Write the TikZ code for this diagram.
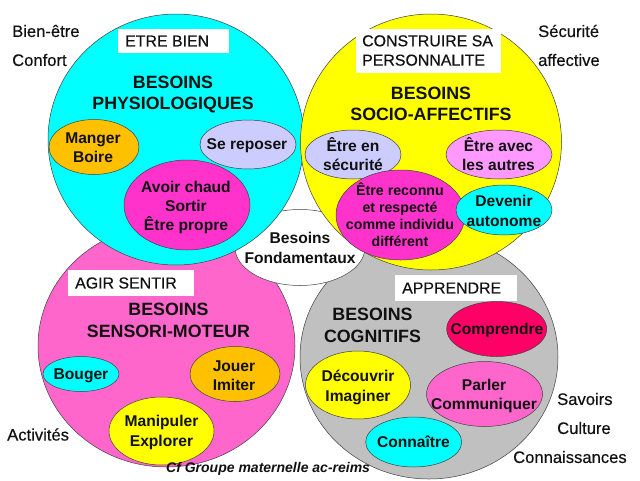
\documentclass[tikz,border=0pt]{standalone}
\usepackage{fontspec}
\setmainfont{Liberation Sans}
\newfontfamily\semifont[FakeBold=0.35]{Liberation Sans}
\usetikzlibrary{shapes.geometric}
\definecolor{cCyan}{HTML}{00FFFF}
\definecolor{cYellow}{HTML}{FFFF00}
\definecolor{cPink}{HTML}{FF66CC}
\definecolor{cGray}{HTML}{C0C0C0}
\definecolor{cOrange}{HTML}{FFC000}
\definecolor{cLav}{HTML}{CCCCFF}
\definecolor{cMag}{HTML}{FF33CC}
\definecolor{cLilac}{HTML}{FF99FF}
\definecolor{cRed}{HTML}{FF0066}
\definecolor{cInk}{HTML}{111111}
\tikzset{
  x=1pt,y=-1pt,
  blob/.style={ellipse,draw=black!75,line width=0.5pt,inner sep=0pt,outer sep=0pt},
  tag/.style={rectangle,fill=white,draw=none,inner sep=0pt,outer sep=0pt},
  lab/.style={text=cInk,align=center,inner sep=0pt,font=\fontsize{15.6}{19.3}\selectfont\bfseries},
  smalllab/.style={text=cInk,align=center,inner sep=0pt,font=\fontsize{14.2}{17}\selectfont\bfseries},
  head/.style={text=cInk,align=center,inner sep=0pt,font=\fontsize{17.8}{21.3}\selectfont\bfseries},
  taglab/.style={text=cInk,align=left,inner sep=0pt,font=\fontsize{15.9}{19.3}\selectfont\semifont},
  side/.style={text=cInk,anchor=west,inner sep=0pt,font=\fontsize{16.6}{18}\selectfont\semifont},
}
\newcommand{\blobat}[6]{\node[blob,fill=#6,minimum width=#4pt,minimum height=#5pt] (#1) at (#2,#3) {};}
\begin{document}
\begin{tikzpicture}
\useasboundingbox (0,0) rectangle (640,480);
\fill[white] (0,0) rectangle (640,480);
% big discs
\blobat{pinkdisc}{166.5}{346}{257}{242}{cPink}
\blobat{graydisc}{429}{357}{258}{244}{cGray}
\blobat{core}{300}{247.5}{130}{76}{white}
\blobat{cyandisc}{176}{139.5}{256}{251}{cCyan}
\blobat{yellowdisc}{431}{142}{261}{256}{cYellow}
% tags
\node[tag,minimum width=111pt,minimum height=24pt] (tagA) at (173.5,41) {};
\node[tag,minimum width=145pt,minimum height=44pt] (tagB) at (428.5,51) {};
\node[tag,minimum width=126pt,minimum height=26pt] (tagC) at (131,283) {};
\node[tag,minimum width=122pt,minimum height=26pt] (tagD) at (456,288) {};
\node[taglab,anchor=west] at (125,41) {ETRE BIEN};
\node[taglab,anchor=west] at (362,50.5) {CONSTRUIRE SA\\PERSONNALITE};
\node[taglab,anchor=west] at (75,283) {AGIR SENTIR};
\node[taglab,anchor=west] at (402,288) {APPRENDRE};
% heads
\node[head] at (173,94.5) {BESOINS\\PHYSIOLOGIQUES};
\node[head] at (431,104) {BESOINS\\SOCIO-AFFECTIFS};
\node[head] at (168.5,320.5) {BESOINS\\SENSORI-MOTEUR};
\node[head] at (372.5,325.5) {BESOINS\\COGNITIFS};
% inner ellipses
\blobat{manger}{94}{147}{90}{55}{cOrange}
\blobat{repos}{248}{144.5}{96}{49}{cLav}
\blobat{chaud}{187}{205}{126}{90}{cMag}
\blobat{secu}{353}{154.5}{96}{49}{cLav}
\blobat{avec}{499}{154.5}{106}{49}{cLilac}
\blobat{reconnu}{400.5}{215}{129}{90}{cMag}
\blobat{auto}{504}{210}{96}{50}{cCyan}
\blobat{bouger}{81}{374}{76}{35}{cCyan}
\blobat{jouer}{235}{374}{90}{55}{cOrange}
\blobat{manip}{161.5}{431}{105}{68}{cYellow}
\blobat{compr}{496.7}{329}{100}{55}{cRed}
\blobat{parler}{484.5}{394}{116}{65}{cPink}
\blobat{decouv}{358}{385}{105}{68}{cYellow}
\blobat{connai}{413.7}{442}{96}{50}{cCyan}
% inner labels
\node[lab] at (93,148) {Manger\\Boire};
\node[lab] at (247,146) {Se reposer};
\node[lab] at (186,207.5) {Avoir chaud\\Sortir\\Être propre};
\node[lab] at (353,154) {Être en\\sécurité};
\node[lab] at (498.5,154) {Être avec\\les autres};
\node[smalllab] at (400,215) {Être reconnu\\et respecté\\comme individu\\différent};
\node[lab] at (504,211) {Devenir\\autonome};
\node[lab] at (81,375.5) {Bouger};
\node[lab] at (234,376) {Jouer\\Imiter};
\node[lab] at (161.5,432.5) {Manipuler\\Explorer};
\node[lab] at (497,330) {Comprendre};
\node[lab] at (484,396) {Parler\\Communiquer};
\node[lab] at (358,387.5) {Découvrir\\Imaginer};
\node[lab] at (413.5,441.5) {Connaître};
\node[lab] at (300,248) {Besoins\\Fondamentaux};
% side labels
\node[side] at (12,31) {Bien-être};
\node[side] at (12,60) {Confort};
\node[side] at (538,31) {Sécurité};
\node[side] at (538,60) {affective};
\node[side] at (7,434.5) {Activités};
\node[side] at (557,399) {Savoirs};
\node[side] at (557,428) {Culture};
\node[side] at (513,457) {Connaissances};
\node[text=cInk,anchor=west,inner sep=0pt,font=\fontsize{14}{16}\selectfont\bfseries\itshape] at (166,469) {Cf Groupe maternelle ac-reims};
\end{tikzpicture}
\end{document}
